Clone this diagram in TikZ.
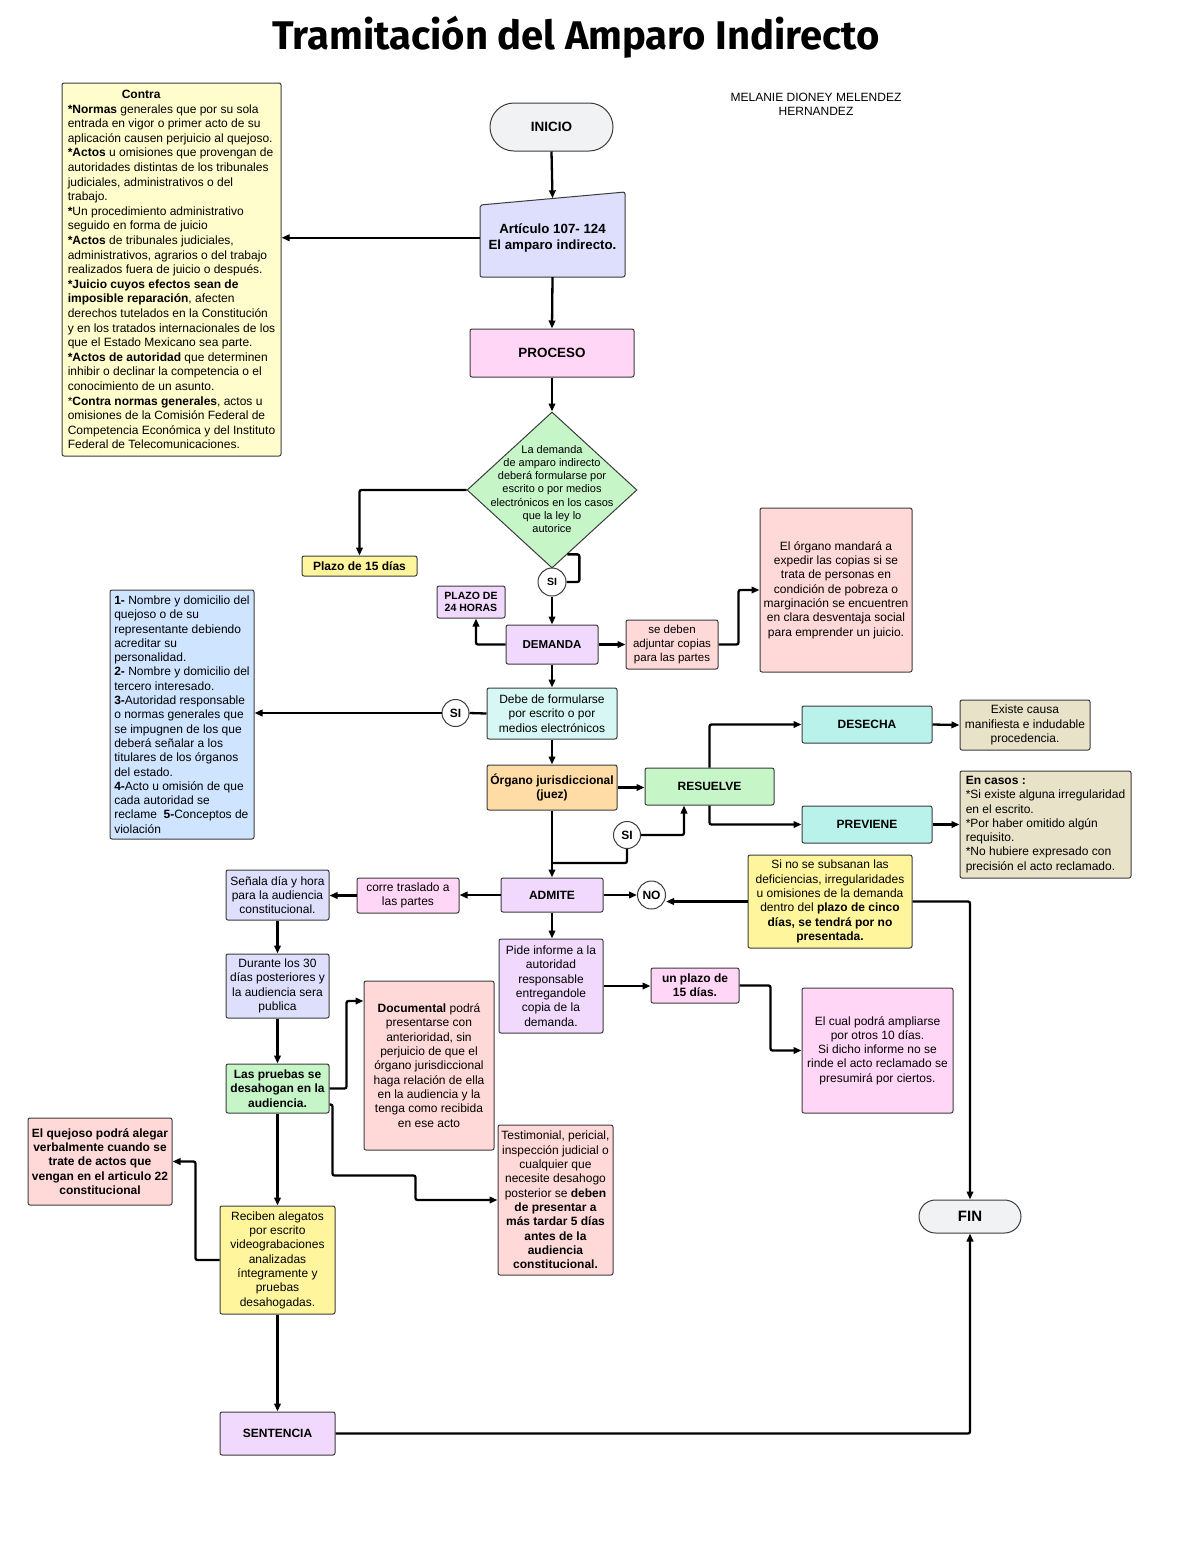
\documentclass[tikz,border=0pt]{standalone}
\usepackage{fontspec}
\setmainfont{Liberation Sans}
\newfontfamily\titlefont{Fira Sans}
\usetikzlibrary{arrows.meta,shapes.geometric,shapes.misc,calc}
\definecolor{cPale}{HTML}{FFFDCB}
\definecolor{cYel}{HTML}{FFF59C}
\definecolor{cBlue}{HTML}{CFE4FF}
\definecolor{cLav}{HTML}{DEDEFD}
\definecolor{cPur}{HTML}{F0D9FC}
\definecolor{cPink}{HTML}{FFD6F5}
\definecolor{cRose}{HTML}{FFD8D8}
\definecolor{cAqua}{HTML}{D6F7F3}
\definecolor{cCyan}{HTML}{B8F2EA}
\definecolor{cGreen}{HTML}{C6F5C8}
\definecolor{cOrange}{HTML}{FFDCA6}
\definecolor{cBeige}{HTML}{E8E2C9}
\definecolor{cGray}{HTML}{F1F2F4}
\definecolor{cEdge}{HTML}{3C3C3C}
\tikzset{
  box/.style={draw=cEdge, line width=1pt, rounded corners=2pt, inner sep=2pt, align=center,
    font=\fontsize{12}{14.3}\selectfont},
  boldbox/.style={box, font=\fontsize{12}{14.3}\selectfont\bfseries},
  sz/.style 2 args={minimum width=#1pt, minimum height=#2pt},
  circ/.style={circle, draw=cEdge, line width=1pt, fill=white, inner sep=0pt, minimum size=28pt,
    font=\fontsize{12}{14}\selectfont\bfseries},
  term/.style={rounded rectangle, draw=cEdge, line width=1pt, fill=cGray, inner sep=0pt,
    font=\bfseries},
  conn/.style={line width=2.3pt, rounded corners=2pt, black},
  arr/.style={conn, -{Triangle[length=8pt,width=6.5pt]}},
}
\begin{document}
\begin{tikzpicture}[x=1pt,y=-1pt]
\useasboundingbox (0,0) rectangle (1200,1543);
\fill[white] (0,0) rectangle (1200,1543);

% title and author
\node[inner sep=0pt] (title) at (576,37) {\titlefont\bfseries\fontsize{40}{44}\selectfont Tramitación del Amparo Indirecto};
\node[align=center, inner sep=0pt, font=\fontsize{12}{14.3}\selectfont] (author) at (816,104) {MELANIE DIONEY MELENDEZ\\HERNANDEZ};

% left note
\node[box, fill=cPale, sz={219}{373}, align=left, font=\fontsize{12}{14.6}\selectfont] (contra) at (171.5,269.5) {%
\hspace*{54pt}\textbf{Contra}\\
\textbf{*Normas} generales que por su sola\\
entrada en vigor o primer acto de su\\
aplicación causen perjuicio al quejoso.\\
\textbf{*Actos} u omisiones que provengan de\\
autoridades distintas de los tribunales\\
judiciales, administrativos o del\\
trabajo.\\
{\bfseries *}Un procedimiento administrativo\\
seguido en forma de juicio\\
\textbf{*Actos} de tribunales judiciales,\\
administrativos, agrarios o del trabajo\\
realizados fuera de juicio o después.\\
\textbf{*Juicio cuyos efectos sean de}\\
\textbf{imposible reparación}, afecten\\
derechos tutelados en la Constitución\\
y en los tratados internacionales de los\\
que el Estado Mexicano sea parte.\\
\textbf{*Actos de autoridad} que determinen\\
inhibir o declinar la competencia o el\\
conocimiento de un asunto.\\
{*}\textbf{Contra normas generales}, actos u\\
omisiones de la Comisión Federal de\\
Competencia Económica y del Instituto\\
Federal de Telecomunicaciones.};

% main column
\node[term, minimum width=123pt, minimum height=48pt, font=\fontsize{13.5}{15}\selectfont\bfseries] (inicio) at (551.5,127) {INICIO};
\fill[cLav, draw=cEdge, line width=1pt, rounded corners=2pt] (480,205) -- (625,192) -- (625,277) -- (480,277) -- cycle;
\node[align=center, sz={145}{78.5}, inner sep=0pt, font=\fontsize{13.3}{16}\selectfont\bfseries] (art) at (552.5,237.75) {Artículo 107- 124\\El amparo indirecto.};
\node[boldbox, fill=cPink, sz={164}{48}, font=\fontsize{13.4}{15}\selectfont\bfseries] (proceso) at (552,353) {PROCESO};
\node[diamond, draw=cEdge, line width=1pt, fill=cGreen, minimum width=170pt, minimum height=156pt, inner sep=0pt] (dia) at (552,490) {};
\node[align=center, inner sep=0pt, font=\fontsize{11}{13.3}\selectfont] (diatext) at (552,489) {La demanda\\de amparo indirecto\\deberá formularse por\\escrito o por medios\\electrónicos en los casos\\que la ley lo\\autorice};
\node[boldbox, fill=cYel, sz={115}{20}, inner sep=0pt] (plazoA) at (359.5,566) {Plazo de 15 días};
\node[circ, minimum size=28pt, font=\fontsize{10.5}{12}\selectfont\bfseries] (si1) at (552,582) {SI};
\node[boldbox, fill=cPur, sz={68}{32}, font=\fontsize{10.5}{12.5}\selectfont\bfseries] (plazoB) at (471,602) {PLAZO DE\\24 HORAS};
\node[boldbox, fill=cPur, sz={92}{39}, font=\fontsize{11.5}{13}\selectfont\bfseries] (demanda) at (552,644.5) {DEMANDA};
\node[box, fill=cRose, sz={92}{49}, font=\fontsize{11.5}{14}\selectfont] (copias) at (672,644.5) {se deben\\adjuntar copias\\para las partes};
\node[box, fill=cRose, sz={152}{164}] (mandara) at (836,590) {El órgano mandará a\\expedir las copias si se\\trata de personas en\\condición de pobreza o\\marginación se encuentren\\en clara desventaja social\\para emprender un juicio.};
\node[box, fill=cAqua, sz={130}{51}] (debe) at (552,713.5) {Debe de formularse\\por escrito o por\\medios electrónicos};
\node[circ, minimum size=27pt] (si2) at (455.5,713) {SI};
\node[box, fill=cBlue, sz={144}{249}, align=left] (req) at (182,714.5) {%
\textbf{1-} Nombre y domicilio del\\
quejoso o de su\\
representante debiendo\\
acreditar su\\
personalidad.\\
\textbf{2-} Nombre y domicilio del\\
tercero interesado.\\
\textbf{3-}Autoridad responsable\\
o normas generales que\\
se impugnen de los que\\
deberá señalar a los\\
titulares de los órganos\\
del estado.\\
\textbf{4-}Acto u omisión de que\\
cada autoridad se\\
reclame \ \textbf{5-}Conceptos de\\
violación};
\node[boldbox, fill=cOrange, sz={130}{45}] (organo) at (552,787.5) {Órgano jurisdiccional\\(juez)};
\node[boldbox, fill=cGreen, sz={129}{37}] (resuelve) at (709.5,786.5) {RESUELVE};
\node[boldbox, fill=cCyan, sz={130}{37}] (desecha) at (867,724.5) {DESECHA};
\node[boldbox, fill=cCyan, sz={130}{37}] (previene) at (867,824.5) {PREVIENE};
\node[box, fill=cBeige, sz={130}{50}] (causa) at (1025,725) {Existe causa\\manifiesta e indudable\\procedencia.};
\node[box, fill=cBeige, sz={171}{107}, align=left] (casos) at (1045.5,824.5) {\textbf{En casos :}\\{*}Si existe alguna irregularidad\\en el escrito.\\{*}Por haber omitido algún\\requisito.\\{*}No hubiere expresado con\\precisión el acto reclamado.};
\node[circ, minimum size=27pt] (si3) at (627,835) {SI};
\coordinate (j1) at (552,863);
\node[boldbox, fill=cPur, sz={102}{34}] (admite) at (552,895) {ADMITE};
\node[box, fill=cPink, sz={102}{35}] (traslado) at (408,895.5) {corre traslado a\\las partes};
\node[box, fill=cLav, sz={103}{50}] (senala) at (277.5,895) {Señala día y hora\\para la audiencia\\constitucional.};
\node[circ, minimum size=28pt] (no) at (651.5,895) {NO};
\node[box, fill=cYel, sz={164}{93}] (subsanan) at (830,901.5) {Si no se subsanan las\\deficiencias, irregularidades\\u omisiones de la demanda\\dentro del \textbf{plazo de cinco}\\\textbf{días, se tendrá por no}\\\textbf{presentada.}};
\node[term, minimum width=102pt, minimum height=33pt, font=\fontsize{15}{17}\selectfont\bfseries] (fin) at (970,1216.5) {FIN};
\node[box, fill=cPur, sz={104}{94}] (pide) at (551,986) {Pide informe a la\\autoridad\\responsable\\entregandole\\copia de la\\demanda.};
\node[boldbox, fill=cPink, sz={88}{35}] (plazoC) at (695,985.5) {un plazo de\\15 días.};
\node[box, fill=cPink, sz={151}{125}] (ampliar) at (877.5,1050.5) {El cual podrá ampliarse\\por otros 10 días.\\Si dicho informe no se\\rinde el acto reclamado se\\presumirá por ciertos.};
\node[box, fill=cLav, sz={103}{64}] (durante) at (277.5,986) {Durante los 30\\días posteriores y\\la audiencia sera\\publica};
\node[boldbox, fill=cGreen, sz={103}{49}] (pruebas) at (277.5,1088.5) {Las pruebas se\\desahogan en la\\audiencia.};
\node[box, fill=cRose, sz={130}{169}] (documental) at (429,1065.5) {\textbf{Documental} podrá\\presentarse con\\anterioridad, sin\\perjuicio de que el\\órgano jurisdiccional\\haga relación de ella\\en la audiencia y la\\tenga como recibida\\en ese acto};
\node[box, fill=cRose, sz={115}{150}] (testimonial) at (555.5,1200) {Testimonial, pericial,\\inspección judicial o\\cualquier que\\necesite desahogo\\posterior se \textbf{deben}\\\textbf{de presentar a}\\\textbf{más tardar 5 días}\\\textbf{antes de la}\\\textbf{audiencia}\\\textbf{constitucional.}};
\node[box, fill=cYel, sz={115}{108}] (reciben) at (277.5,1260) {Reciben alegatos\\por escrito\\videograbaciones\\analizadas\\íntegramente y\\pruebas\\desahogadas.};
\node[boldbox, fill=cRose, sz={144}{87}] (quejoso) at (100,1161.5) {El quejoso podrá alegar\\verbalmente cuando se\\trate de actos que\\vengan en el articulo 22\\constitucional};
\node[boldbox, fill=cPur, sz={115}{43}] (sentencia) at (277.5,1433.5) {SENTENCIA};

% connectors
\draw[arr] (inicio.south) -- (art.north);
\draw[arr] (art.west) -- (art.west -| contra.east);
\draw[arr] (art.south) -- (proceso.north);
\draw[arr] (proceso.south) -- (dia.north);
\draw[arr] (dia.west) -| (plazoA.north);
\draw[conn] ($(dia.south)!0.18!(dia.east)$) -- ++(12,0) |- (si1.east);
\draw[arr] (si1.south) -- (demanda.north);
\draw[arr] (demanda.west) -| ([xshift=5pt]plazoB.south);
\draw[arr] (demanda.east) -- (copias.west);
\draw[arr] (copias.east) -- ++(20,0) |- (mandara.west);
\draw[arr] (demanda.south) -- (debe.north);
\draw[conn] (debe.west) -- (si2.east);
\draw[arr] (si2.west) -- (si2.west -| req.east);
\draw[arr] (debe.south) -- (organo.north);
\draw[arr] (organo.east) -- (organo.east -| resuelve.west);
\draw[arr] (resuelve.north) |- (desecha.west);
\draw[arr] (resuelve.south) |- (previene.west);
\draw[arr] (desecha.east) -- (causa.west);
\draw[arr] (previene.east) -- (casos.west);
\draw[arr] (organo.south) -- (admite.north);
\draw[conn] (si3.south) |- (j1);
\draw[arr] (si3.east) -| ([xshift=-25.5pt]resuelve.south);
\draw[arr] (admite.west) -- (admite.west -| traslado.east);
\draw[arr] (traslado.west) -- (traslado.west -| senala.east);
\draw[arr] (admite.east) -- (no.west);
\draw[arr] (subsanan.west) -- (subsanan.west -| no.east);
\draw[arr] (subsanan.east) -| (fin.north);
\draw[arr] (admite.south) -- (admite.south |- pide.north);
\draw[arr] (pide.east) -- (pide.east -| plazoC.west);
\draw[arr] (plazoC.east) -- ++(31,0) |- (ampliar.west);
\draw[arr] (senala.south) -- (durante.north);
\draw[arr] (durante.south) -- (pruebas.north);
\draw[arr] (pruebas.east) -- ++(17,0) |- ([yshift=64.5pt]documental.west);
\draw[arr] ([yshift=-16pt]pruebas.east) -- ++(3,0) -- ++(0,71) -- ++(83,0) |- (testimonial.west);
\draw[arr] (pruebas.south) -- (reciben.north);
\draw[arr] (reciben.west) -- ++(-24,0) |- (quejoso.east);
\draw[arr] (reciben.south) -- (sentencia.north);
\draw[arr] (sentencia.east) -| (fin.south);
\end{tikzpicture}
\end{document}
